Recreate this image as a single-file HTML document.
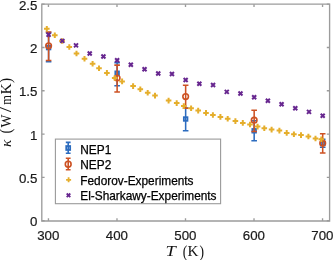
<!DOCTYPE html><html><head><meta charset="utf-8"><style>html,body{margin:0;padding:0;background:#fff;overflow:hidden}svg{display:block;will-change:transform}</style></head><body>
<svg width="333" height="260" viewBox="0 0 333 260">
<rect width="333" height="260" fill="#fff"/>
<g stroke="#9c9c9c" stroke-width="1.35" fill="none">
<path d="M41.8,220.95 H329.6 V4.15 H41.8 Z"/>
<path d="M48.45,220.95 v-2.8 M48.45,4.15 v2.8"/>
<path d="M116.98,220.95 v-2.8 M116.98,4.15 v2.8"/>
<path d="M185.50,220.95 v-2.8 M185.50,4.15 v2.8"/>
<path d="M254.02,220.95 v-2.8 M254.02,4.15 v2.8"/>
<path d="M322.55,220.95 v-2.8 M322.55,4.15 v2.8"/>
<path d="M41.8,220.75 h2.8 M329.6,220.75 h-2.8"/>
<path d="M41.8,177.43 h2.8 M329.6,177.43 h-2.8"/>
<path d="M41.8,134.11 h2.8 M329.6,134.11 h-2.8"/>
<path d="M41.8,90.79 h2.8 M329.6,90.79 h-2.8"/>
<path d="M41.8,47.47 h2.8 M329.6,47.47 h-2.8"/>
<path d="M41.8,4.15 h2.8 M329.6,4.15 h-2.8"/>
</g>
<path d="M48.60,32.60 V61.70 M45.80,32.60 h5.6 M45.80,61.70 h5.6" stroke="#2C6CBF" stroke-width="1.55" fill="none"/>
<rect x="46.80" y="45.80" width="3.6" height="3.6" stroke="#2C6CBF" stroke-width="1.8" fill="none"/>
<path d="M117.13,62.80 V85.80 M114.33,62.80 h5.6 M114.33,85.80 h5.6" stroke="#2C6CBF" stroke-width="1.55" fill="none"/>
<rect x="115.33" y="71.40" width="3.6" height="3.6" stroke="#2C6CBF" stroke-width="1.8" fill="none"/>
<path d="M185.65,108.00 V130.80 M182.85,108.00 h5.6 M182.85,130.80 h5.6" stroke="#2C6CBF" stroke-width="1.55" fill="none"/>
<rect x="183.85" y="117.20" width="3.6" height="3.6" stroke="#2C6CBF" stroke-width="1.8" fill="none"/>
<path d="M254.17,120.80 V140.80 M251.37,120.80 h5.6 M251.37,140.80 h5.6" stroke="#2C6CBF" stroke-width="1.55" fill="none"/>
<rect x="252.37" y="129.00" width="3.6" height="3.6" stroke="#2C6CBF" stroke-width="1.8" fill="none"/>
<path d="M322.70,139.30 V147.30 M319.90,139.30 h5.6 M319.90,147.30 h5.6" stroke="#2C6CBF" stroke-width="1.55" fill="none"/>
<rect x="320.90" y="141.50" width="3.6" height="3.6" stroke="#2C6CBF" stroke-width="1.8" fill="none"/>
<path d="M48.60,32.00 V60.50 M45.80,32.00 h5.6 M45.80,60.50 h5.6" stroke="#CD5223" stroke-width="1.55" fill="none"/>
<circle cx="48.60" cy="45.80" r="2.8" stroke="#CD5223" stroke-width="1.6" fill="none"/>
<path d="M117.13,65.10 V91.90 M114.33,65.10 h5.6 M114.33,91.90 h5.6" stroke="#CD5223" stroke-width="1.55" fill="none"/>
<circle cx="117.13" cy="78.00" r="2.8" stroke="#CD5223" stroke-width="1.6" fill="none"/>
<path d="M185.65,85.20 V108.30 M182.85,85.20 h5.6 M182.85,108.30 h5.6" stroke="#CD5223" stroke-width="1.55" fill="none"/>
<circle cx="185.65" cy="96.60" r="2.8" stroke="#CD5223" stroke-width="1.6" fill="none"/>
<path d="M254.17,110.20 V131.50 M251.37,110.20 h5.6 M251.37,131.50 h5.6" stroke="#CD5223" stroke-width="1.55" fill="none"/>
<circle cx="254.17" cy="120.20" r="2.8" stroke="#CD5223" stroke-width="1.6" fill="none"/>
<path d="M322.70,133.70 V153.00 M319.90,133.70 h5.6 M319.90,153.00 h5.6" stroke="#CD5223" stroke-width="1.55" fill="none"/>
<circle cx="322.70" cy="143.20" r="2.8" stroke="#CD5223" stroke-width="1.6" fill="none"/>
<path d="M44.00,28.70 h5.6 M46.80,25.90 v5.6" stroke="#E5AE2C" stroke-width="2.0" fill="none"/>
<path d="M52.00,35.30 h5.6 M54.80,32.50 v5.6" stroke="#E5AE2C" stroke-width="2.0" fill="none"/>
<path d="M59.20,41.00 h5.6 M62.00,38.20 v5.6" stroke="#E5AE2C" stroke-width="2.0" fill="none"/>
<path d="M66.50,47.00 h5.6 M69.30,44.20 v5.6" stroke="#E5AE2C" stroke-width="2.0" fill="none"/>
<path d="M73.70,53.50 h5.6 M76.50,50.70 v5.6" stroke="#E5AE2C" stroke-width="2.0" fill="none"/>
<path d="M81.70,58.80 h5.6 M84.50,56.00 v5.6" stroke="#E5AE2C" stroke-width="2.0" fill="none"/>
<path d="M89.80,63.80 h5.6 M92.60,61.00 v5.6" stroke="#E5AE2C" stroke-width="2.0" fill="none"/>
<path d="M96.20,68.20 h5.6 M99.00,65.40 v5.6" stroke="#E5AE2C" stroke-width="2.0" fill="none"/>
<path d="M104.10,72.90 h5.6 M106.90,70.10 v5.6" stroke="#E5AE2C" stroke-width="2.0" fill="none"/>
<path d="M111.90,78.00 h5.6 M114.70,75.20 v5.6" stroke="#E5AE2C" stroke-width="2.0" fill="none"/>
<path d="M119.30,81.40 h5.6 M122.10,78.60 v5.6" stroke="#E5AE2C" stroke-width="2.0" fill="none"/>
<path d="M130.30,86.10 h5.6 M133.10,83.30 v5.6" stroke="#E5AE2C" stroke-width="2.0" fill="none"/>
<path d="M137.50,89.30 h5.6 M140.30,86.50 v5.6" stroke="#E5AE2C" stroke-width="2.0" fill="none"/>
<path d="M144.90,92.70 h5.6 M147.70,89.90 v5.6" stroke="#E5AE2C" stroke-width="2.0" fill="none"/>
<path d="M152.20,95.60 h5.6 M155.00,92.80 v5.6" stroke="#E5AE2C" stroke-width="2.0" fill="none"/>
<path d="M165.80,100.60 h5.6 M168.60,97.80 v5.6" stroke="#E5AE2C" stroke-width="2.0" fill="none"/>
<path d="M173.90,103.10 h5.6 M176.70,100.30 v5.6" stroke="#E5AE2C" stroke-width="2.0" fill="none"/>
<path d="M181.00,106.10 h5.6 M183.80,103.30 v5.6" stroke="#E5AE2C" stroke-width="2.0" fill="none"/>
<path d="M188.30,108.30 h5.6 M191.10,105.50 v5.6" stroke="#E5AE2C" stroke-width="2.0" fill="none"/>
<path d="M195.40,110.60 h5.6 M198.20,107.80 v5.6" stroke="#E5AE2C" stroke-width="2.0" fill="none"/>
<path d="M203.20,112.90 h5.6 M206.00,110.10 v5.6" stroke="#E5AE2C" stroke-width="2.0" fill="none"/>
<path d="M210.10,115.00 h5.6 M212.90,112.20 v5.6" stroke="#E5AE2C" stroke-width="2.0" fill="none"/>
<path d="M217.60,116.90 h5.6 M220.40,114.10 v5.6" stroke="#E5AE2C" stroke-width="2.0" fill="none"/>
<path d="M224.90,118.80 h5.6 M227.70,116.00 v5.6" stroke="#E5AE2C" stroke-width="2.0" fill="none"/>
<path d="M232.60,121.10 h5.6 M235.40,118.30 v5.6" stroke="#E5AE2C" stroke-width="2.0" fill="none"/>
<path d="M240.00,122.90 h5.6 M242.80,120.10 v5.6" stroke="#E5AE2C" stroke-width="2.0" fill="none"/>
<path d="M247.20,124.50 h5.6 M250.00,121.70 v5.6" stroke="#E5AE2C" stroke-width="2.0" fill="none"/>
<path d="M254.80,126.60 h5.6 M257.60,123.80 v5.6" stroke="#E5AE2C" stroke-width="2.0" fill="none"/>
<path d="M261.50,128.20 h5.6 M264.30,125.40 v5.6" stroke="#E5AE2C" stroke-width="2.0" fill="none"/>
<path d="M268.80,129.60 h5.6 M271.60,126.80 v5.6" stroke="#E5AE2C" stroke-width="2.0" fill="none"/>
<path d="M276.60,130.60 h5.6 M279.40,127.80 v5.6" stroke="#E5AE2C" stroke-width="2.0" fill="none"/>
<path d="M283.90,132.90 h5.6 M286.70,130.10 v5.6" stroke="#E5AE2C" stroke-width="2.0" fill="none"/>
<path d="M291.10,134.30 h5.6 M293.90,131.50 v5.6" stroke="#E5AE2C" stroke-width="2.0" fill="none"/>
<path d="M298.20,135.10 h5.6 M301.00,132.30 v5.6" stroke="#E5AE2C" stroke-width="2.0" fill="none"/>
<path d="M305.60,136.50 h5.6 M308.40,133.70 v5.6" stroke="#E5AE2C" stroke-width="2.0" fill="none"/>
<path d="M312.70,138.50 h5.6 M315.50,135.70 v5.6" stroke="#E5AE2C" stroke-width="2.0" fill="none"/>
<path d="M318.50,139.20 h5.6 M321.30,136.40 v5.6" stroke="#E5AE2C" stroke-width="2.0" fill="none"/>
<path d="M46.60,32.80 l4.0,4.0 M46.60,36.80 l4.0,-4.0" stroke="#67268F" stroke-width="2.0" fill="none"/>
<path d="M60.31,38.90 l4.0,4.0 M60.31,42.90 l4.0,-4.0" stroke="#67268F" stroke-width="2.0" fill="none"/>
<path d="M74.01,43.40 l4.0,4.0 M74.01,47.40 l4.0,-4.0" stroke="#67268F" stroke-width="2.0" fill="none"/>
<path d="M87.72,51.50 l4.0,4.0 M87.72,55.50 l4.0,-4.0" stroke="#67268F" stroke-width="2.0" fill="none"/>
<path d="M101.42,54.50 l4.0,4.0 M101.42,58.50 l4.0,-4.0" stroke="#67268F" stroke-width="2.0" fill="none"/>
<path d="M115.13,58.20 l4.0,4.0 M115.13,62.20 l4.0,-4.0" stroke="#67268F" stroke-width="2.0" fill="none"/>
<path d="M128.83,62.80 l4.0,4.0 M128.83,66.80 l4.0,-4.0" stroke="#67268F" stroke-width="2.0" fill="none"/>
<path d="M142.54,67.20 l4.0,4.0 M142.54,71.20 l4.0,-4.0" stroke="#67268F" stroke-width="2.0" fill="none"/>
<path d="M156.24,71.50 l4.0,4.0 M156.24,75.50 l4.0,-4.0" stroke="#67268F" stroke-width="2.0" fill="none"/>
<path d="M169.95,72.00 l4.0,4.0 M169.95,76.00 l4.0,-4.0" stroke="#67268F" stroke-width="2.0" fill="none"/>
<path d="M183.65,78.00 l4.0,4.0 M183.65,82.00 l4.0,-4.0" stroke="#67268F" stroke-width="2.0" fill="none"/>
<path d="M197.35,81.70 l4.0,4.0 M197.35,85.70 l4.0,-4.0" stroke="#67268F" stroke-width="2.0" fill="none"/>
<path d="M211.06,83.00 l4.0,4.0 M211.06,87.00 l4.0,-4.0" stroke="#67268F" stroke-width="2.0" fill="none"/>
<path d="M224.76,89.90 l4.0,4.0 M224.76,93.90 l4.0,-4.0" stroke="#67268F" stroke-width="2.0" fill="none"/>
<path d="M238.47,91.50 l4.0,4.0 M238.47,95.50 l4.0,-4.0" stroke="#67268F" stroke-width="2.0" fill="none"/>
<path d="M252.17,95.30 l4.0,4.0 M252.17,99.30 l4.0,-4.0" stroke="#67268F" stroke-width="2.0" fill="none"/>
<path d="M265.88,98.80 l4.0,4.0 M265.88,102.80 l4.0,-4.0" stroke="#67268F" stroke-width="2.0" fill="none"/>
<path d="M279.58,102.20 l4.0,4.0 M279.58,106.20 l4.0,-4.0" stroke="#67268F" stroke-width="2.0" fill="none"/>
<path d="M293.29,106.30 l4.0,4.0 M293.29,110.30 l4.0,-4.0" stroke="#67268F" stroke-width="2.0" fill="none"/>
<path d="M306.99,109.90 l4.0,4.0 M306.99,113.90 l4.0,-4.0" stroke="#67268F" stroke-width="2.0" fill="none"/>
<path d="M320.70,113.80 l4.0,4.0 M320.70,117.80 l4.0,-4.0" stroke="#67268F" stroke-width="2.0" fill="none"/>
<rect x="55.4" y="139.1" width="165.2" height="64.6" fill="#fff" stroke="#9a9a9a" stroke-width="1.1"/>
<path d="M68.20,142.40 V153.20 M65.80,142.40 h4.8 M65.80,153.20 h4.8" stroke="#2C6CBF" stroke-width="1.6" fill="none"/>
<rect x="66.25" y="146.05" width="3.9" height="3.9" stroke="#2C6CBF" stroke-width="1.8" fill="none"/>
<path d="M68.20,158.30 V169.80 M65.80,158.30 h4.8 M65.80,169.80 h4.8" stroke="#CD5223" stroke-width="1.6" fill="none"/>
<circle cx="68.20" cy="164.20" r="2.9" stroke="#CD5223" stroke-width="1.6" fill="none"/>
<path d="M66.10,179.80 h5.0 M68.60,177.30 v5.0" stroke="#E5AE2C" stroke-width="1.8" fill="none"/>
<path d="M66.70,193.50 l3.6,3.6 M66.70,197.10 l3.6,-3.6" stroke="#67268F" stroke-width="1.8" fill="none"/>
<g font-family="Liberation Sans, sans-serif" font-size="11.85" fill="#000" stroke="#000" stroke-width="0.25">
<text x="80.3" y="153.5">NEP1</text>
<text x="80.3" y="169.1">NEP2</text>
<text x="80.3" y="184.7">Fedorov-Experiments</text>
<text x="80.3" y="200.1">El-Sharkawy-Experiments</text>
</g>
<g font-family="Liberation Sans, sans-serif" font-size="13.3" fill="#1a1a1a" stroke="#1a1a1a" stroke-width="0.2">
<text x="48.30" y="239.8" text-anchor="middle">300</text>
<text x="116.83" y="239.8" text-anchor="middle">400</text>
<text x="185.35" y="239.8" text-anchor="middle">500</text>
<text x="253.87" y="239.8" text-anchor="middle">600</text>
<text x="322.40" y="239.8" text-anchor="middle">700</text>
<text x="37.4" y="226.30" text-anchor="end">0</text>
<text x="37.4" y="182.98" text-anchor="end">0.5</text>
<text x="37.4" y="139.66" text-anchor="end">1</text>
<text x="37.4" y="96.34" text-anchor="end">1.5</text>
<text x="37.4" y="53.02" text-anchor="end">2</text>
<text x="37.4" y="9.70" text-anchor="end">2.5</text>
</g>
<g font-family="Liberation Serif, serif" fill="#111">
<text x="165.49" y="256.20" font-size="14.5" font-style="italic" textLength="10.32" lengthAdjust="spacingAndGlyphs">T</text>
<text x="182.70" y="257.20" font-size="17" textLength="4.54" lengthAdjust="spacingAndGlyphs">(</text>
<text x="187.57" y="256.20" font-size="14.5" textLength="10.89" lengthAdjust="spacingAndGlyphs">K</text>
<text x="199.46" y="257.20" font-size="17" textLength="4.54" lengthAdjust="spacingAndGlyphs">)</text>
</g>
<g font-family="Liberation Serif, serif" fill="#111" transform="translate(11.0,0) rotate(-90)">
<text x="-147.06" y="0.00" font-size="14.5" font-style="italic" textLength="7.40" lengthAdjust="spacingAndGlyphs">κ</text>
<text x="-133.57" y="0.00" font-size="17" textLength="5.06" lengthAdjust="spacingAndGlyphs">(</text>
<text x="-127.41" y="0.00" font-size="15.5" textLength="12.94" lengthAdjust="spacingAndGlyphs">W</text>
<text x="-112.30" y="0.00" font-size="18.5" textLength="6.00" lengthAdjust="spacingAndGlyphs">/</text>
<text x="-104.76" y="0.00" font-size="15.2" textLength="9.65" lengthAdjust="spacingAndGlyphs">m</text>
<text x="-94.45" y="0.00" font-size="14.5" textLength="11.21" lengthAdjust="spacingAndGlyphs">K</text>
<text x="-82.90" y="0.00" font-size="16.5" textLength="5.19" lengthAdjust="spacingAndGlyphs">)</text>
</g>
</svg></body></html>
